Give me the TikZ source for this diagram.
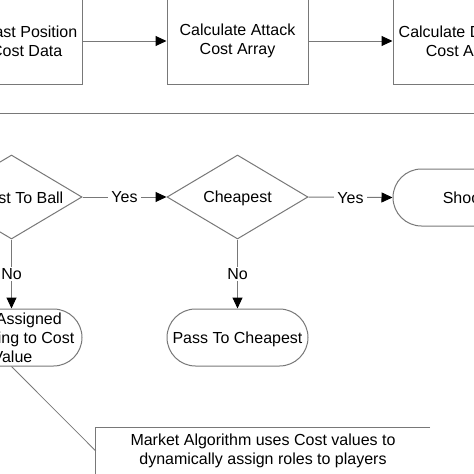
\documentclass[tikz,border=0pt]{standalone}
\usepackage{fontspec}
\setmainfont{Liberation Sans}
\usetikzlibrary{shapes.geometric,shapes.misc,arrows.meta}
\definecolor{linegray}{RGB}{120,120,120}
\begin{document}
\begin{tikzpicture}[x=1pt,y=-1pt,
  every node/.style={font=\fontsize{16}{19}\selectfont, text=black},
  procbox/.style={draw=linegray, line width=1pt, minimum width=141pt, minimum height=86pt, align=center, inner sep=0pt},
  decision/.style={draw=linegray, line width=1pt, diamond, minimum width=141pt, minimum height=84pt, inner sep=0pt},
  terminal/.style={draw=linegray, line width=1pt, rounded rectangle, minimum width=141pt, minimum height=57pt, inner sep=0pt, align=center},
  oneline/.style={text height=11.5pt, text depth=0pt},
  frag/.style={inner sep=0pt},
  conn/.style={draw=linegray, line width=1pt, -{Triangle[length=11pt,width=10pt,color=black]}},
  plainline/.style={draw=linegray, line width=1pt},
  lbl/.style={fill=white, inner xsep=3pt, inner ysep=1pt, text height=11.5pt, text depth=0pt}
]
\useasboundingbox (0,0) rectangle (474,474);
\clip (0,0) rectangle (474,474);
\fill[white] (0,0) rectangle (474,474);

% top row
\node[procbox] (b1) at (11.5,41) {};
\node[procbox] (b2) at (237.5,41) {Calculate Attack\\Cost Array};
\node[procbox] (b3) at (463.5,41) {};
\node[frag, anchor=base east] (b1t1) at (77.5,37.5) {ast Position};
\node[frag, anchor=base east] (b1t2) at (62.5,56.5) {Cost Data};
\node[frag, anchor=base west] (b3t1) at (398.5,37.5) {Calculate D};
\node[frag, anchor=base west] (b3t2) at (425.7,56.5) {Cost A};
\draw[conn] (b1.east) -- (b2.west);
\draw[conn] (b2.east) -- (b3.west);

% separator
\coordinate (sepL) at (0,113);
\coordinate (sepR) at (474,113);
\draw[plainline] (sepL) -- (sepR);

% decision row
\node[decision] (d1) at (11.5,197) {};
\node[frag, anchor=base east] (d1t) at (63.5,203) {st To Ball};
\node[decision, oneline] (d2) at (237.5,197) {Cheapest};
\node[terminal] (shoot) at (463.5,197.5) {};
\node[frag, anchor=base west] (shoott) at (442.6,203) {Shoo};
\draw[conn] (d1.east) -- node[lbl] {Yes} (d2.west);
\draw[conn] (d2.east) -- node[lbl] {Yes} (shoot.west);

% bottom row
\node[terminal] (assigned) at (11.5,337.5) {};
\node[frag, anchor=base east] (at1) at (62,324) {Assigned};
\node[frag, anchor=base east] (at2) at (74.5,343) {ing to Cost};
\node[frag, anchor=base east] (at3) at (32.5,362) {Value};
\node[terminal, oneline] (pass) at (237.5,337.5) {Pass To Cheapest};
\draw[conn] (d1.south) -- node[lbl] {No} (assigned.north);
\draw[conn] (d2.south) -- node[lbl] {No} (pass.north);

% annotation
\node[minimum width=334pt, minimum height=46pt, align=center, inner sep=0pt] (note) at (263,451)
  {Market Algorithm uses Cost values to\\dynamically assign roles to players};
\draw[plainline] (note.north east) -- (note.north west) -- (note.south west);
\draw[draw=linegray, line width=0.8pt] (assigned.south) -- (note.west);
\end{tikzpicture}
\end{document}
